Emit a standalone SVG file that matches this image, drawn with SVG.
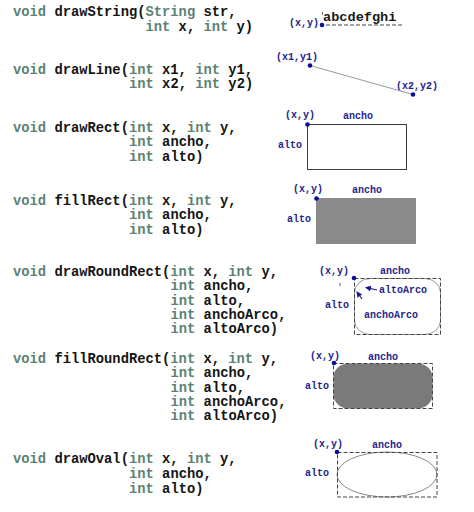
<svg xmlns="http://www.w3.org/2000/svg" width="474" height="512" viewBox="0 0 474 512">
<style>
.code{font-family:"Liberation Mono","Courier New",monospace;font-weight:bold;font-size:13.8px;fill:#141414}
.kw{fill:#5b8274}
.lbl{font-family:"Liberation Mono","Courier New",monospace;font-weight:bold;font-size:10px;fill:#24248c}
.dot{fill:#0c0c9c}
.box{fill:none;stroke:#3a3a3a;stroke-width:1}
.dash{fill:none;stroke:#444;stroke-width:1;stroke-dasharray:4 2}
.thin{fill:none;stroke:#999;stroke-width:1}
</style>
<defs>
<marker id="ah" markerWidth="6" markerHeight="6" refX="5" refY="3" orient="auto" markerUnits="userSpaceOnUse">
<path d="M0,0 L6,3 L0,6 z" fill="#1a1a8c"/>
</marker>
</defs>
<rect width="474" height="512" fill="#fff"/>

<g id="drawString">
<text class="code" x="13" y="16"><tspan class="kw">void</tspan> drawString(<tspan class="kw">String</tspan> str,</text>
<text class="code" x="145.5" y="31"><tspan class="kw">int</tspan> x, <tspan class="kw">int</tspan> y)</text>
<text class="lbl" x="289" y="26">(x,y)</text>
<text x="323" y="21" font-family="Liberation Mono, monospace" font-size="13.6" font-weight="bold" fill="#1a1a1a">abcdefghi</text>
<line x1="326" y1="25" x2="402" y2="25" class="dash"/>
<line x1="322.5" y1="12" x2="322.5" y2="15" stroke="#666" stroke-width="1"/>
<circle class="dot" cx="322" cy="25" r="2.3"/>
</g>

<g id="drawLine">
<text class="code" x="13" y="74"><tspan class="kw">void</tspan> drawLine(<tspan class="kw">int</tspan> x1, <tspan class="kw">int</tspan> y1,</text>
<text class="code" x="129" y="88"><tspan class="kw">int</tspan> x2, <tspan class="kw">int</tspan> y2)</text>
<text class="lbl" x="276" y="60">(x1,y1)</text>
<text class="lbl" x="396" y="89">(x2,y2)</text>
</g>

<g id="drawRect">
<text class="code" x="13" y="132"><tspan class="kw">void</tspan> drawRect(<tspan class="kw">int</tspan> x, <tspan class="kw">int</tspan> y,</text>
<text class="code" x="129" y="146"><tspan class="kw">int</tspan> ancho,</text>
<text class="code" x="129" y="161"><tspan class="kw">int</tspan> alto)</text>
<rect class="box" x="307.5" y="124.5" width="99" height="45"/>
<text class="lbl" x="285" y="118">(x,y)</text>
<text class="lbl" x="343" y="119">ancho</text>
<text class="lbl" x="278" y="148">alto</text>
<circle class="dot" cx="307.5" cy="124.5" r="2.3"/>
</g>

<g id="fillRect">
<text class="code" x="13" y="205"><tspan class="kw">void</tspan> fillRect(<tspan class="kw">int</tspan> x, <tspan class="kw">int</tspan> y,</text>
<text class="code" x="129" y="219"><tspan class="kw">int</tspan> ancho,</text>
<text class="code" x="129" y="234"><tspan class="kw">int</tspan> alto)</text>
<rect x="316" y="198" width="100" height="46" fill="#8a8a8a"/>
<text class="lbl" x="293" y="192">(x,y)</text>
<text class="lbl" x="352" y="193">ancho</text>
<text class="lbl" x="287" y="222">alto</text>
<circle class="dot" cx="316.5" cy="198.5" r="2.3"/>
</g>

<g id="drawRoundRect">
<text class="code" x="13" y="276"><tspan class="kw">void</tspan> drawRoundRect(<tspan class="kw">int</tspan> x, <tspan class="kw">int</tspan> y,</text>
<text class="code" x="170.5" y="290"><tspan class="kw">int</tspan> ancho,</text>
<text class="code" x="170.5" y="305"><tspan class="kw">int</tspan> alto,</text>
<text class="code" x="170.5" y="319"><tspan class="kw">int</tspan> anchoArco,</text>
<text class="code" x="170.5" y="333"><tspan class="kw">int</tspan> altoArco)</text>
<rect class="thin" x="354.5" y="278.5" width="86" height="56" rx="16" ry="14"/>
<rect class="dash" x="354.5" y="278.5" width="86" height="56"/>
<text class="lbl" x="319" y="274">(x,y)</text>
<text class="lbl" x="380" y="274">ancho</text>
<text class="lbl" x="325" y="308">alto</text>
<text class="lbl" x="379" y="293">altoArco</text>
<text class="lbl" x="364" y="318">anchoArco</text>
<line x1="377" y1="290" x2="366" y2="287.5" stroke="#1a1a8c" stroke-width="1.2" marker-end="url(#ah)"/>
<line x1="362" y1="299" x2="357" y2="292" stroke="#1a1a8c" stroke-width="1.2" marker-end="url(#ah)"/>
<line x1="340" y1="283" x2="340" y2="286" stroke="#666" stroke-width="1"/>
<circle class="dot" cx="354" cy="278" r="2.3"/>
</g>

<g id="fillRoundRect">
<text class="code" x="13" y="363"><tspan class="kw">void</tspan> fillRoundRect(<tspan class="kw">int</tspan> x, <tspan class="kw">int</tspan> y,</text>
<text class="code" x="170.5" y="377"><tspan class="kw">int</tspan> ancho,</text>
<text class="code" x="170.5" y="392"><tspan class="kw">int</tspan> alto,</text>
<text class="code" x="170.5" y="406"><tspan class="kw">int</tspan> anchoArco,</text>
<text class="code" x="170.5" y="420"><tspan class="kw">int</tspan> altoArco)</text>
<rect x="333.5" y="363.5" width="99" height="45" rx="15" ry="14" fill="#7a7a7a"/>
<rect class="dash" x="333.5" y="363.5" width="99" height="45"/>
<text class="lbl" x="310" y="359">(x,y)</text>
<text class="lbl" x="368" y="360">ancho</text>
<text class="lbl" x="305" y="389">alto</text>
<circle class="dot" cx="334" cy="363" r="2.3"/>
</g>

<g id="drawOval">
<text class="code" x="13" y="463"><tspan class="kw">void</tspan> drawOval(<tspan class="kw">int</tspan> x, <tspan class="kw">int</tspan> y,</text>
<text class="code" x="129" y="478"><tspan class="kw">int</tspan> ancho,</text>
<text class="code" x="129" y="493"><tspan class="kw">int</tspan> alto)</text>
<ellipse cx="387" cy="474.5" rx="50" ry="22.5" fill="none" stroke="#888" stroke-width="1"/>
<rect class="dash" x="337.5" y="452.5" width="99.5" height="44.5"/>
<text class="lbl" x="313" y="447">(x,y)</text>
<text class="lbl" x="372" y="448">ancho</text>
<text class="lbl" x="305" y="476">alto</text>
<circle class="dot" cx="337" cy="452" r="2.3"/>
</g>

<g id="connectors">
<line x1="310" y1="65.5" x2="413" y2="94.5" stroke="#999" stroke-width="1"/>
<circle class="dot" cx="310" cy="65.5" r="2.3"/>
<circle class="dot" cx="413" cy="94.5" r="2.3"/>
</g>
</svg>
